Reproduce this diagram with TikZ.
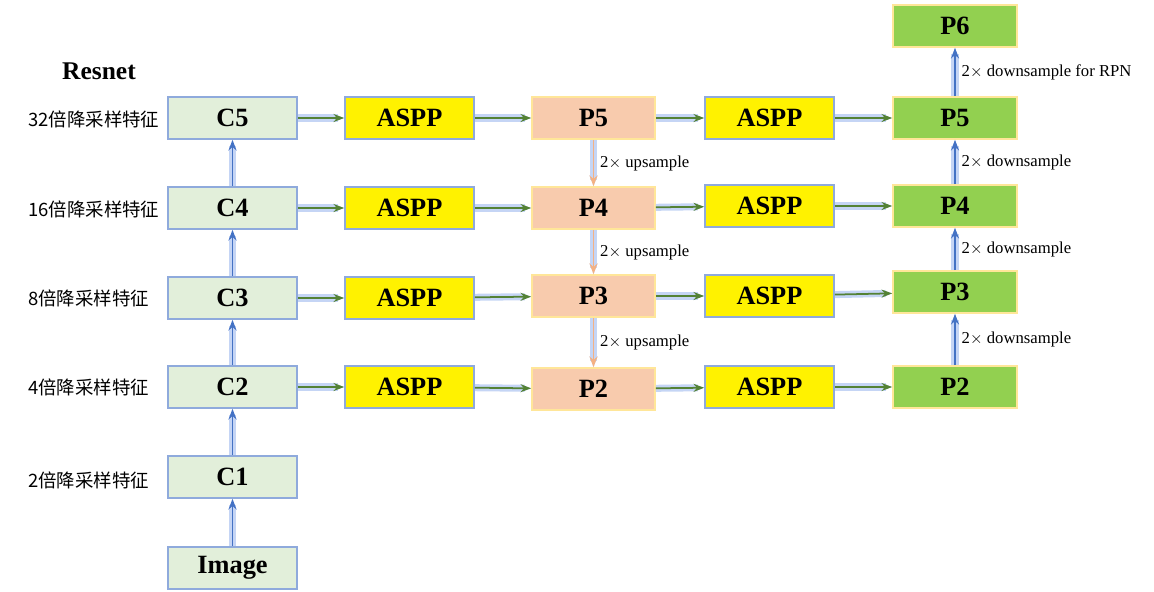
\documentclass[tikz,border=0pt]{standalone}
\usepackage{fontspec}
\setmainfont{Liberation Serif}
\newfontfamily\cjk{Noto Sans CJK SC}
\usetikzlibrary{positioning,arrows.meta}
\definecolor{cfill}{HTML}{E2EFDA}
\definecolor{bborder}{HTML}{8FAADC}
\definecolor{pfill}{HTML}{F8CBAD}
\definecolor{pborder}{HTML}{FFE699}
\definecolor{gfill}{HTML}{92D050}
\definecolor{fwline}{HTML}{548235}
\definecolor{upline}{HTML}{4472C4}
\definecolor{dnline}{HTML}{F4B183}
\definecolor{glow}{HTML}{C5D5F5}
\tikzstyle{box} = [draw, rectangle, line width=1pt, minimum height=0.84cm, minimum width=2.58cm, font=\fontsize{15}{17}\selectfont\bfseries]
\tikzstyle{cblock} = [box, draw=bborder, fill=cfill]
\tikzstyle{aspp} = [box, draw=bborder, fill=yellow]
\tikzstyle{pblock} = [box, draw=pborder, fill=pfill, minimum width=2.46cm]
\tikzstyle{gblock} = [box, draw=pborder, fill=gfill, minimum width=2.48cm]
\tikzstyle{side} = [font=\cjk\fontsize{10.5}{12}\selectfont, anchor=west]
\tikzstyle{note} = [font=\fontsize{9.5}{11}\selectfont, anchor=west, text=black]
\tikzstyle{up} = [->, >={Stealth[length=6pt]}, upline, line width=1pt, preaction={draw=glow, line width=4pt}]
\tikzstyle{fw} = [->, >={Stealth[length=6pt]}, fwline, line width=1pt, preaction={draw=glow, line width=4pt}]
\tikzstyle{dn} = [->, >={Stealth[length=6pt]}, dnline, line width=1pt, preaction={draw=glow, line width=4pt}]

\begin{document}
\begin{tikzpicture}[x=0.02cm, y=-0.02cm]
      \useasboundingbox (0,0) rectangle (1154,592);
      % backbone
      \node[cblock] (img) at (232.5,568) {Image};
      \node[cblock] (c1) at (232.5,477) {C1};
      \node[cblock] (c2) at (232.5,387) {C2};
      \node[cblock] (c3) at (232.5,298) {C3};
      \node[cblock] (c4) at (232.5,208) {C4};
      \node[cblock] (c5) at (232.5,118) {C5};
      \node[font=\fontsize{14.5}{16}\selectfont\bfseries] (resnet) at (99,71) {Resnet};
      \node[side] (l1) at (22,480) {2倍降采样特征};
      \node[side] (l2) at (22,387) {4倍降采样特征};
      \node[side] (l3) at (22,298) {8倍降采样特征};
      \node[side] (l4) at (22,209) {16倍降采样特征};
      \node[side] (l5) at (22,119) {32倍降采样特征};
      % first ASPP column
      \node[aspp] (a2) at (409.5,387) {ASPP};
      \node[aspp] (a3) at (409.5,298) {ASPP};
      \node[aspp] (a4) at (409.5,208) {ASPP};
      \node[aspp] (a5) at (409.5,118) {ASPP};
      % top-down path
      \node[pblock] (p2) at (593.5,389) {P2};
      \node[pblock] (p3) at (593.5,296) {P3};
      \node[pblock] (p4) at (593.5,208) {P4};
      \node[pblock] (p5) at (593.5,118) {P5};
      % second ASPP column
      \node[aspp] (b2) at (769.5,387) {ASPP};
      \node[aspp] (b3) at (769.5,296) {ASPP};
      \node[aspp] (b4) at (769.5,206) {ASPP};
      \node[aspp] (b5) at (769.5,118) {ASPP};
      % bottom-up path
      \node[gblock] (q2) at (955,387) {P2};
      \node[gblock] (q3) at (955,292) {P3};
      \node[gblock] (q4) at (955,206) {P4};
      \node[gblock] (q5) at (955,118) {P5};
      \node[gblock] (q6) at (955,26) {P6};
      \foreach \a/\b in {img/c1,c1/c2,c2/c3,c3/c4,c4/c5}
        \draw[up] (\a) -- (\b);
      \foreach \i in {2,3,4,5}{
        \draw[fw] (c\i) -- (a\i);
        \draw[fw] (a\i) -- (p\i);
        \draw[fw] (p\i) -- (b\i);
        \draw[fw] (b\i) -- (q\i);
      }
      \draw[dn] (p5) -- node[note] {2$\times$ upsample} (p4);
      \draw[dn] (p4) -- node[note] {2$\times$ upsample} (p3);
      \draw[dn] (p3) -- node[note] {2$\times$ upsample} (p2);
      \draw[up] (q2) -- node[note] {2$\times$ downsample} (q3);
      \draw[up] (q3) -- node[note] {2$\times$ downsample} (q4);
      \draw[up] (q4) -- node[note] {2$\times$ downsample} (q5);
      \draw[up] (q5) -- node[note] {2$\times$ downsample for RPN} (q6);
    \end{tikzpicture}
\end{document}
